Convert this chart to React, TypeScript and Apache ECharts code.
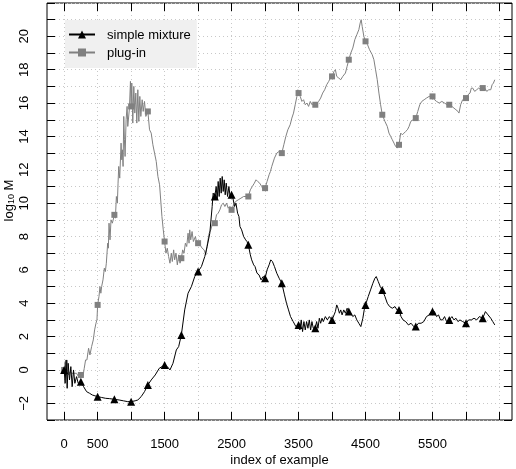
import React, { useEffect, useRef } from "react";
import * as echarts from "echarts";

const xTickValues = [0, 500, 1000, 1500, 2000, 2500, 3000, 3500, 4000, 4500, 5000, 5500, 6000, 6500];
const xLabelValues = [0, 500, 1500, 2500, 3500, 4500, 5500];
const yLabelValues = [-2, 0, 2, 4, 6, 8, 10, 12, 14, 16, 18, 20];
const markerX = [0, 250, 500, 750, 1000, 1250, 1500, 1750, 2000, 2250, 2500, 2750, 3000, 3250, 3500, 3750, 4000, 4250, 4500, 4750, 5000, 5250, 5500, 5750, 6000, 6250];
const seriesNames = ["simple mixture", "plug-in"];

const simpleMixture: [number, number][] = [
  [0, 0.0], [15, -0.8], [30, 0.6], [45, -1.1], [60, 0.4], [80, -0.6], [100, 0.2], [120, -1.0],
  [140, 0.0], [160, -0.8], [185, -0.4], [210, -0.8], [250, -0.7], [290, -1.0], [335, -1.3],
  [380, -1.4], [420, -1.5], [460, -1.55], [500, -1.6], [560, -1.65], [620, -1.7], [680, -1.72],
  [750, -1.76], [820, -1.8], [885, -1.85], [950, -1.9], [1000, -1.9], [1060, -1.85], [1100, -1.8],
  [1150, -1.6], [1200, -1.3], [1250, -0.9], [1300, -0.6], [1360, -0.3], [1420, 0.1], [1460, 0.2],
  [1500, 0.3], [1540, 0.2], [1580, 0.0], [1625, 0.4], [1675, 1.2], [1710, 1.4], [1750, 2.1],
  [1800, 3.6], [1850, 4.6], [1900, 5.0], [1950, 5.6], [2000, 5.9], [2050, 6.2], [2100, 6.8],
  [2135, 7.4], [2175, 8.2], [2210, 9.8], [2225, 10.6], [2250, 10.4], [2270, 11.0], [2285, 10.2],
  [2300, 11.3], [2315, 10.4], [2330, 11.5], [2345, 10.6], [2360, 11.6], [2375, 10.7], [2390, 11.4],
  [2405, 10.5], [2420, 11.2], [2440, 10.4], [2460, 11.0], [2480, 10.3], [2500, 10.5], [2520, 10.3],
  [2545, 9.8], [2565, 10.0], [2590, 9.4], [2610, 9.2], [2625, 8.6], [2650, 8.4], [2680, 8.0],
  [2710, 7.8], [2730, 7.7], [2750, 7.5], [2780, 6.9], [2800, 6.6], [2830, 6.3], [2850, 6.2],
  [2880, 5.8], [2910, 5.7], [2940, 5.4], [2970, 5.6], [3000, 5.5], [3030, 6.0], [3060, 6.3],
  [3085, 6.6], [3110, 6.5], [3140, 6.2], [3175, 5.8], [3210, 5.5], [3250, 5.2], [3290, 4.5],
  [3320, 4.0], [3350, 3.6], [3380, 3.2], [3420, 2.9], [3460, 2.6], [3500, 2.7], [3520, 2.4],
  [3540, 3.0], [3560, 2.3], [3580, 2.9], [3600, 2.4], [3620, 2.9], [3640, 2.5], [3660, 3.0],
  [3680, 2.4], [3700, 2.9], [3720, 2.5], [3750, 2.5], [3770, 2.9], [3790, 2.5], [3810, 3.1],
  [3830, 2.8], [3850, 3.1], [3870, 2.9], [3900, 3.2], [3930, 3.0], [3960, 3.2], [4000, 3.0],
  [4030, 3.3], [4050, 3.5], [4070, 3.9], [4090, 3.7], [4110, 3.4], [4130, 3.6], [4150, 3.3],
  [4175, 3.6], [4200, 3.4], [4225, 3.7], [4250, 3.5], [4280, 3.4], [4310, 3.2], [4340, 3.3],
  [4370, 3.0], [4400, 2.8], [4430, 2.6], [4460, 3.1], [4480, 3.6], [4500, 3.9], [4540, 4.4],
  [4575, 4.8], [4610, 5.2], [4640, 5.5], [4660, 5.6], [4690, 5.3], [4720, 5.0], [4750, 4.8],
  [4790, 4.4], [4825, 4.0], [4860, 3.8], [4900, 3.7], [4940, 3.8], [4970, 3.6], [5000, 3.6],
  [5030, 3.2], [5060, 3.0], [5100, 2.9], [5140, 2.7], [5180, 2.8], [5220, 2.6], [5250, 2.6],
  [5290, 2.8], [5330, 2.8], [5370, 2.9], [5410, 3.2], [5450, 3.3], [5480, 3.5], [5500, 3.5],
  [5530, 3.5], [5560, 3.2], [5590, 3.3], [5620, 3.0], [5650, 3.0], [5680, 3.2], [5710, 2.9],
  [5750, 3.0], [5790, 3.2], [5820, 3.0], [5850, 3.1], [5880, 2.9], [5910, 3.0], [5950, 2.9],
  [6000, 2.8], [6040, 3.0], [6080, 3.0], [6120, 3.1], [6160, 3.0], [6200, 3.2], [6250, 3.1],
  [6290, 3.5], [6330, 3.3], [6370, 3.1], [6400, 2.9], [6430, 2.7],
];

const plugIn: [number, number][] = [
  [0, 0.0], [15, 0.5], [30, -0.3], [45, 0.6], [65, -0.3], [90, -0.1], [115, -0.2], [150, -0.2],
  [185, -0.2], [215, -0.4], [250, -0.3], [280, -0.4], [300, 0.1], [320, 0.6], [340, 0.6],
  [365, 1.3], [385, 0.9], [410, 1.4], [435, 1.8], [455, 2.4], [475, 2.8], [490, 3.0], [500, 3.9],
  [520, 4.4], [535, 5.0], [548, 4.6], [560, 5.0], [580, 5.4], [600, 6.1], [615, 5.9], [630, 6.4],
  [650, 7.6], [660, 7.3], [670, 8.8], [685, 7.8], [700, 9.0], [720, 8.8], [750, 9.3], [765, 9.1],
  [780, 10.4], [795, 10.0], [805, 11.2], [815, 12.2], [830, 11.5], [850, 13.6], [860, 12.6],
  [870, 13.2], [880, 12.2], [890, 15.2], [900, 13.8], [910, 12.8], [925, 15.0], [940, 15.8],
  [950, 14.6], [975, 15.7], [990, 17.3], [1000, 15.8], [1010, 17.2], [1025, 14.8], [1040, 17.0],
  [1055, 15.4], [1070, 16.6], [1085, 14.8], [1100, 16.8], [1115, 14.9], [1130, 16.4], [1145, 15.2],
  [1165, 16.2], [1180, 15.5], [1200, 16.1], [1220, 15.2], [1250, 15.5], [1275, 14.4], [1300, 14.2],
  [1325, 13.5], [1350, 13.0], [1375, 12.5], [1400, 11.6], [1425, 11.1], [1460, 9.2], [1480, 8.4],
  [1500, 7.7], [1520, 7.0], [1540, 7.3], [1560, 6.8], [1580, 6.4], [1600, 7.0], [1615, 6.5],
  [1635, 7.2], [1650, 6.6], [1670, 7.0], [1690, 6.3], [1710, 6.9], [1730, 6.4], [1750, 6.7],
  [1770, 7.2], [1790, 7.0], [1810, 7.6], [1830, 7.4], [1850, 8.2], [1865, 7.6], [1875, 8.4],
  [1890, 7.8], [1910, 8.3], [1930, 7.7], [1960, 8.0], [1980, 7.6], [2000, 7.6], [2030, 7.5],
  [2060, 7.3], [2090, 7.2], [2115, 6.9], [2140, 7.6], [2165, 8.2], [2190, 8.4], [2215, 8.8],
  [2250, 8.8], [2275, 9.3], [2300, 9.4], [2325, 9.6], [2350, 9.9], [2375, 10.0], [2400, 9.8],
  [2425, 10.0], [2450, 9.7], [2475, 9.8], [2500, 9.6], [2530, 9.9], [2560, 10.1], [2600, 10.2],
  [2640, 10.3], [2680, 10.4], [2720, 10.4], [2750, 10.4], [2780, 10.8], [2810, 11.0], [2840, 11.2],
  [2865, 11.4], [2890, 11.3], [2920, 11.2], [2950, 11.0], [2975, 10.8], [3000, 10.9], [3030, 11.3],
  [3060, 11.7], [3080, 11.9], [3100, 12.2], [3140, 12.7], [3175, 13.0], [3210, 13.1], [3250, 13.0],
  [3280, 13.5], [3310, 14.0], [3340, 14.4], [3375, 14.7], [3400, 15.1], [3425, 15.4], [3450, 15.9],
  [3475, 16.4], [3490, 16.8], [3500, 16.6], [3525, 16.4], [3550, 16.1], [3575, 16.2], [3600, 15.9],
  [3625, 16.0], [3650, 15.8], [3675, 16.1], [3700, 15.9], [3725, 16.0], [3750, 15.9], [3775, 16.0],
  [3800, 16.1], [3830, 16.3], [3860, 16.6], [3890, 16.8], [3920, 17.1], [3950, 17.3], [3975, 17.5],
  [4000, 17.6], [4030, 17.9], [4050, 18.0], [4070, 17.6], [4100, 17.5], [4130, 17.4], [4160, 17.6],
  [4200, 17.8], [4225, 18.2], [4250, 18.6], [4280, 19.0], [4310, 19.3], [4340, 19.8], [4370, 20.1],
  [4400, 20.4], [4420, 20.8], [4435, 21.0], [4450, 20.6], [4475, 20.0], [4500, 19.7], [4530, 19.5],
  [4560, 19.2], [4600, 18.9], [4625, 18.6], [4650, 18.0], [4675, 17.4], [4700, 16.6], [4725, 15.9],
  [4750, 15.3], [4790, 14.9], [4825, 14.6], [4850, 14.2], [4875, 14.0], [4900, 13.8], [4925, 13.6],
  [4950, 13.4], [4975, 13.3], [5000, 13.5], [5025, 14.2], [5050, 14.1], [5075, 14.2], [5100, 14.3],
  [5125, 14.4], [5150, 14.6], [5175, 14.9], [5210, 15.0], [5250, 15.1], [5280, 15.5], [5310, 15.9],
  [5340, 16.1], [5375, 16.2], [5410, 16.3], [5450, 16.4], [5475, 16.4], [5500, 16.4], [5530, 16.2],
  [5560, 16.1], [5600, 16.0], [5640, 16.1], [5680, 16.0], [5720, 15.9], [5750, 15.9], [5790, 15.8],
  [5820, 15.7], [5850, 15.6], [5880, 15.5], [5895, 15.4], [5920, 15.9], [5950, 16.2], [5975, 16.3],
  [6000, 16.3], [6030, 16.5], [6060, 16.6], [6080, 16.9], [6100, 16.9], [6130, 16.7], [6160, 16.8],
  [6190, 16.9], [6220, 16.8], [6250, 16.9], [6280, 16.9], [6310, 16.7], [6340, 16.8], [6370, 16.8],
  [6390, 17.1], [6410, 17.2], [6430, 17.4],
];

const FONT = "'Liberation Sans', Arial, Helvetica, sans-serif";

function toItems(points: [number, number][]) {
  return points.map(([x, y]) =>
    markerX.includes(x) ? { value: [x, y] } : { value: [x, y], symbol: "none" }
  );
}

function fmt(v: number) {
  return v < 0 ? "\u2212" + Math.abs(v) : String(v);
}

export default function App() {
  const ref = useRef<HTMLDivElement>(null);
  useEffect(() => {
    if (!ref.current) return;
    const chart = echarts.init(ref.current, null, { renderer: "svg" });
    const xCommon = {
      type: "value" as const,
      min: -256,
      max: 6687,
      axisLine: { show: false, onZero: false },
    };
    const yCommon = {
      type: "value" as const,
      min: -3,
      max: 22,
      interval: 1,
      axisLine: { show: false, onZero: false },
    };
    chart.setOption({
      animation: false,
      textStyle: { fontFamily: FONT },
      grid: {
        left: 47,
        right: 4,
        top: 3,
        bottom: 49,
        containLabel: false,
        outerBoundsMode: "none",
        show: true,
        borderColor: "#000",
        borderWidth: 1,
        backgroundColor: "transparent",
      },
      legend: {
        orient: "vertical",
        left: 65,
        top: 20,
        data: seriesNames,
        backgroundColor: "#f0f0f0",
        borderRadius: 0,
        padding: [8, 6, 9, 3],
        itemWidth: 26,
        itemHeight: 10,
        itemGap: 5,
        textStyle: { fontSize: 13, color: "#000", fontFamily: FONT, padding: [0, 0, 0, 7] },
      },
      xAxis: [
        {
          ...xCommon,
          position: "bottom",
          name: "index of example",
          nameLocation: "middle",
          nameGap: 33,
          nameMoveOverlap: false,
          nameTextStyle: { fontSize: 13, color: "#000", fontFamily: FONT },
          axisTick: { show: true, inside: true, length: 8, customValues: xTickValues, lineStyle: { color: "#000" } },
          axisLabel: {
            customValues: xLabelValues,
            margin: 17,
            fontSize: 13,
            color: "#000",
            fontFamily: FONT,
            formatter: (v: number) => fmt(v),
          },
          splitLine: { show: true, lineStyle: { color: "#c8c8c8", type: [1, 3], width: 1 } },
        },
        {
          ...xCommon,
          position: "top",
          axisTick: { show: true, inside: true, length: 8, customValues: xTickValues, lineStyle: { color: "#000" } },
          axisLabel: { show: false },
          splitLine: { show: false },
        },
      ],
      yAxis: [
        {
          ...yCommon,
          position: "left",
          name: "{n|log}{s|10}{n| M}",
          nameLocation: "middle",
          nameGap: 32,
          nameMoveOverlap: false,
          nameTextStyle: {
            color: "#000",
            fontFamily: FONT,
            padding: [0, 0, 0, 22],
            rich: {
              n: { fontSize: 13, color: "#000", fontFamily: FONT, lineHeight: 14 },
              s: { fontSize: 9, color: "#000", fontFamily: FONT, lineHeight: 14, padding: [5, 0, 0, 0] },
            },
          },
          axisTick: { show: true, inside: true, length: 8, lineStyle: { color: "#000" } },
          axisLabel: {
            rotate: 90,
            margin: 17,
            fontSize: 13,
            color: "#000",
            fontFamily: FONT,
            formatter: (v: number) => (yLabelValues.includes(v) ? fmt(v) : ""),
          },
          splitLine: { show: true, lineStyle: { color: "#c8c8c8", type: [1, 3], width: 1 } },
        },
        {
          ...yCommon,
          position: "right",
          axisTick: { show: true, inside: true, length: 8, lineStyle: { color: "#000" } },
          axisLabel: { show: false },
          splitLine: { show: false },
        },
      ],
      series: [
        {
          name: seriesNames[0],
          type: "line",
          xAxisIndex: 0,
          yAxisIndex: 0,
          data: toItems(simpleMixture),
          symbol: "triangle",
          symbolSize: 8,
          showSymbol: true,
          itemStyle: { color: "#000" },
          lineStyle: { color: "#000", width: 1 },
          z: 3,
        },
        {
          name: seriesNames[1],
          type: "line",
          xAxisIndex: 0,
          yAxisIndex: 0,
          data: toItems(plugIn),
          symbol: "rect",
          symbolSize: 6,
          showSymbol: true,
          itemStyle: { color: "#808080" },
          lineStyle: { color: "#808080", width: 1 },
          z: 2,
        },
      ],
    });
    return () => chart.dispose();
  }, []);
  return <div ref={ref} style={{ position: "fixed", left: 0, top: 0, width: 516, height: 469 }} />;
}
